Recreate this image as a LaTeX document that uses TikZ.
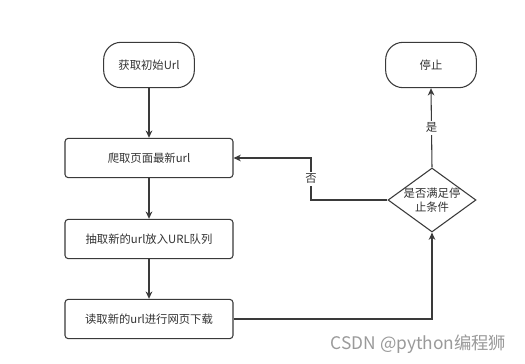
\documentclass[tikz,border=0pt]{standalone}
\usepackage{fontspec}
\setmainfont{Noto Sans CJK SC}
\usetikzlibrary{shapes.geometric, arrows.meta}
\definecolor{FlowLine}{HTML}{3A3A3A}
\definecolor{FlowText}{HTML}{333333}
\definecolor{MarkGray}{HTML}{9A9A9A}
\tikzset{
    terminal/.style={
        draw=FlowLine,
        fill=white,
        line width=0.8pt,
        rounded corners=13pt,
        minimum width=68pt,
        minimum height=34pt,
        text=FlowText,
        font=\fontsize{8.5}{10}\selectfont,
        align=center
    },
    process/.style={
        draw=FlowLine,
        fill=white,
        line width=0.8pt,
        rounded corners=2.5pt,
        minimum width=126pt,
        minimum height=29.5pt,
        text=FlowText,
        font=\fontsize{8.5}{10}\selectfont,
        align=center
    },
    decision/.style={
        diamond,
        draw=FlowLine,
        fill=white,
        line width=0.8pt,
        inner sep=0pt,
        minimum width=66pt,
        minimum height=48pt
    },
    flow/.style={
        -{Stealth[length=5.5pt, width=5pt]},
        line width=0.8pt,
        FlowLine
    },
    flowlabel/.style={
        fill=white,
        inner sep=1.5pt,
        text=FlowText,
        font=\fontsize{8.5}{10}\selectfont
    }
}

\begin{document}
\begin{tikzpicture}[x=0.75pt, y=-0.75pt]
        \useasboundingbox[fill=white] (0,0) rectangle (525,364);

        % Left column
        \node[terminal] (start) at (149,65) {获取初始Url};
        \node[process] (crawl) at (149,158) {爬取页面最新url};
        \node[process] (extract) at (149,239) {抽取新的url放入URL队列};
        \node[process] (fetch) at (149,319) {读取新的url进行网页下载};

        % Right column
        \node[terminal] (stop) at (431,65) {停止};
        \node[decision, label={[text=FlowText, font=\fontsize{8.5}{11}\selectfont, align=center]center:是否满足停\\止条件}] (check) at (432,200) {};

        % Connectors
        \draw[flow] (start) -- (crawl);
        \draw[flow] (crawl) -- (extract);
        \draw[flow] (extract) -- (fetch);
        \draw[flow] (fetch.east) -| (check.south);
        \draw[flow] (check.north) -- node[flowlabel] {是} (stop.south);
        \coordinate (noturn) at (311,200);
        \draw[flow] (check.west) -- (noturn) |- node[flowlabel, pos=0.25] {否} (crawl.east);

        % Watermark
        \node[text=MarkGray, font=\fontsize{13}{15}\selectfont, anchor=east] (mark) at (511,344) {CSDN @python编程狮};
    \end{tikzpicture}
\end{document}
